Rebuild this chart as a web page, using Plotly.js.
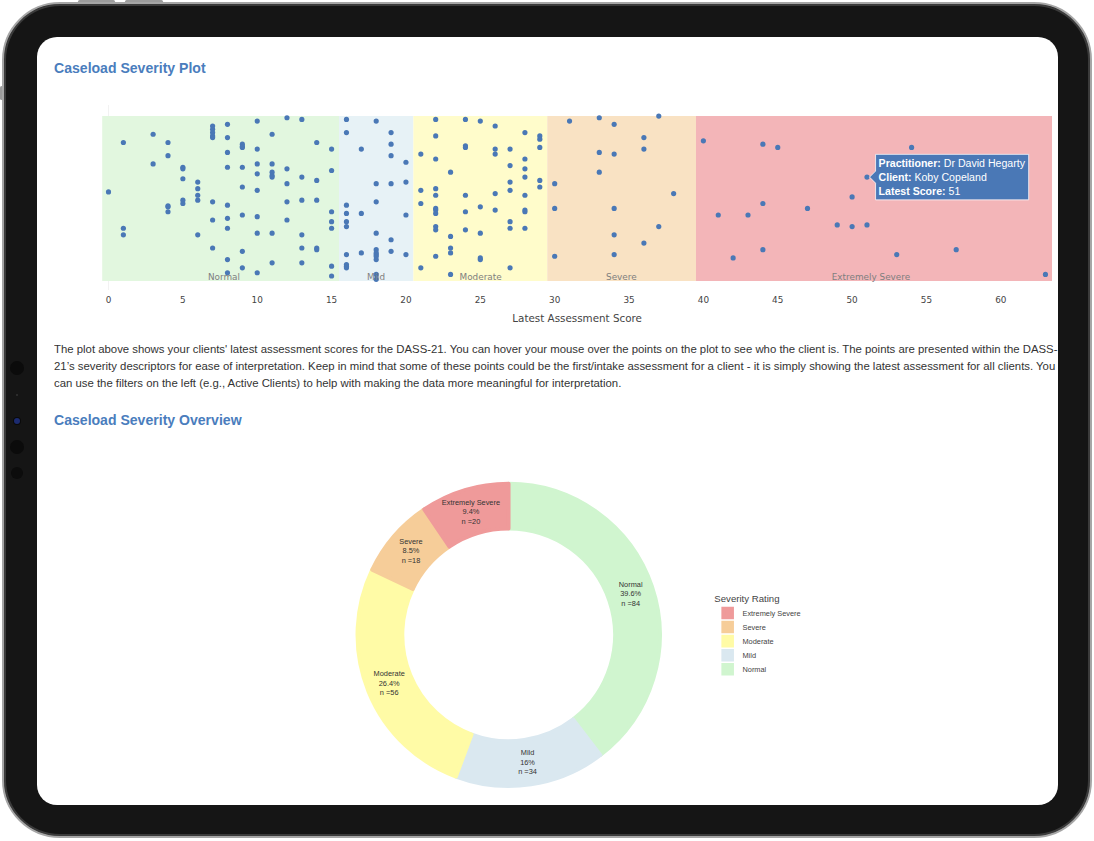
<!DOCTYPE html>
<html>
<head>
<meta charset="utf-8">
<script src="https://cdn.plot.ly/plotly-3.0.1.min.js"></script>
<style>
  html, body { margin: 0; padding: 0; background: #ffffff; }
  body { width: 1094px; height: 841px; position: relative; overflow: hidden; }
  .tablet {
    position: absolute; left: 2px; top: 2px; width: 1090px; height: 836px;
    box-sizing: border-box; border-radius: 58px; background: #151515;
    border: 2px solid #a6a6a6; box-shadow: inset 0 0 0 2px #3b3b3b;
  }
  .btn { position: absolute; background: #9c9c9c; border-radius: 2px; }
  .dot { position: absolute; border-radius: 50%; }
  .screen {
    position: absolute; left: 37px; top: 37px; width: 1021px; height: 768px;
    border-radius: 20px; background: #ffffff; overflow: hidden;
  }
  .page {
    position: absolute; left: 0; top: 0; width: 1380px; height: 1038px;
    transform: scale(0.7399); transform-origin: 0 0;
    font-family: "Liberation Sans", Arial, sans-serif;
  }
  .heading {
    position: absolute; left: 23px; margin: 0; font-size: 19px; line-height: 24px;
    font-weight: bold; color: #4a7dbd; white-space: nowrap;
  }
  .blurb {
    position: absolute; left: 23px; top: 409.7px; margin: 0; font-size: 15.35px;
    line-height: 23px; color: #333333; white-space: nowrap;
  }
  #severityPlot { position: absolute; left: 0; top: 0; width: 1380px; height: 420px; }
  #severityDonut { position: absolute; left: 0; top: 560px; width: 1380px; height: 478px; }
</style>
</head>
<body>
<div class="btn" style="left:78px;top:0;width:37px;height:3px;"></div>
<div class="btn" style="left:125px;top:0;width:38px;height:3px;"></div>
<div class="btn" style="left:0;top:86px;width:3px;height:14px;"></div>
<div class="tablet"></div>
<div class="dot" style="left:10px;top:361px;width:14px;height:14px;background:#0b0b0b;"></div>
<div class="dot" style="left:16px;top:394px;width:2px;height:2px;background:#333;"></div>
<div class="dot" style="left:14px;top:418px;width:6px;height:6px;background:#1c2b70;box-shadow:0 0 0 1px #0a0a0a;"></div>
<div class="dot" style="left:10px;top:440px;width:14px;height:14px;background:#0b0b0b;"></div>
<div class="dot" style="left:11px;top:467px;width:12px;height:12px;background:#0c0c0c;"></div>

<div class="screen">
  <div class="page">
    <h2 class="heading" style="top:30px;">Caseload Severity Plot</h2>
    <div id="severityPlot"></div>
    <p class="blurb">The plot above shows your clients' latest assessment scores for the DASS-21. You can hover your mouse over the points on the plot to see who the client is. The points are presented within the DASS-<br>21’s severity descriptors for ease of interpretation. Keep in mind that some of these points could be the first/intake assessment for a client - it is simply showing the latest assessment for all clients. You<br>can use the filters on the left (e.g., Active Clients) to help with making the data more meaningful for interpretation.</p>
    <h2 class="heading" style="top:507px;">Caseload Severity Overview</h2>
    <div id="severityDonut"></div>
  </div>
</div>

<script>
// Latest DASS-21 score for each client, with the vertical spread used to separate the dots
const scores = [
  0,
  1, 1, 1,
  3, 3,
  4, 4, 4, 4, 4,
  5, 5, 5, 5, 5,
  6, 6, 6, 6, 6,
  7, 7, 7, 7, 7, 7, 7, 7,
  8, 8, 8, 8, 8, 8, 8, 8, 8,
  9, 9, 9, 9, 9, 9, 9, 9,
  10, 10, 10, 10, 10, 10, 10, 10,
  11, 11, 11, 11, 11, 11, 11,
  12, 12, 12, 12, 12,
  13, 13, 13, 13, 13, 13,
  14, 14, 14, 14, 14,
  15, 15, 15, 15, 15, 15, 15,
  16, 16, 16, 16, 16, 16, 16, 16, 16, 16,
  17, 17, 17,
  18, 18, 18, 18, 18, 18, 18, 18, 18, 18, 18,
  19, 19, 19, 19, 19, 19,
  20, 20, 20, 20,
  21, 21, 21, 21,
  22, 22, 22, 22, 22, 22, 22, 22, 22, 22, 22,
  23, 23, 23, 23, 23,
  24, 24, 24, 24, 24, 24,
  25, 25, 25, 25, 25,
  26, 26, 26, 26, 26,
  27, 27, 27, 27, 27, 27, 27,
  28, 28, 28, 28, 28, 28, 28, 28,
  29, 29, 29, 29, 29,
  30, 30, 30,
  31,
  33, 33, 33,
  34, 34, 34, 34, 34,
  36, 36, 36,
  37, 37,
  38,
  40, 41, 42, 43,
  44, 44, 44,
  45, 47, 49,
  50, 50,
  51, 51,
  53, 54, 55, 57, 59, 63
];
const jitter = [
  0.54,
  0.84, 0.32, 0.28,
  0.89, 0.71,
  0.84, 0.76, 0.455, 0.45, 0.42,
  0.69, 0.68, 0.62, 0.49, 0.47,
  0.60, 0.56, 0.52, 0.49, 0.28,
  0.94, 0.92, 0.90, 0.88, 0.87, 0.48, 0.37, 0.20,
  0.95, 0.87, 0.78, 0.69, 0.46, 0.38, 0.32, 0.13, 0.05,
  0.83, 0.815, 0.81, 0.69, 0.57, 0.40, 0.18, 0.08,
  0.97, 0.80, 0.71, 0.65, 0.55, 0.39, 0.29, 0.05,
  0.89, 0.71, 0.66, 0.64, 0.63, 0.29, 0.11,
  0.99, 0.68, 0.59, 0.48, 0.37,
  0.98, 0.63, 0.49, 0.28, 0.20, 0.11,
  0.84, 0.61, 0.49, 0.20, 0.19,
  0.80, 0.67, 0.42, 0.36, 0.32, 0.09, 0.03,
  0.98, 0.90, 0.46, 0.41, 0.36, 0.33, 0.16, 0.10, 0.09, 0.08,
  0.80, 0.41, 0.17,
  0.97, 0.59, 0.48, 0.29, 0.19, 0.17, 0.16, 0.15, 0.13, 0.04, 0.01,
  0.90, 0.83, 0.76, 0.59, 0.25, 0.18,
  0.72, 0.60, 0.40, 0.16,
  0.77, 0.55, 0.47, 0.08,
  0.98, 0.88, 0.74, 0.56, 0.52, 0.44, 0.43, 0.41, 0.33, 0.31, 0.15,
  0.66, 0.27, 0.20, 0.17, 0.04,
  0.98, 0.82, 0.81, 0.52, 0.42, 0.31,
  0.97, 0.45, 0.29, 0.14, 0.13,
  0.94, 0.80, 0.77, 0.53, 0.43,
  0.80, 0.70, 0.60, 0.55, 0.36, 0.32, 0.08,
  0.90, 0.74, 0.68, 0.63, 0.52, 0.43, 0.42, 0.32,
  0.88, 0.86, 0.81, 0.61, 0.57,
  0.59, 0.44, 0.15,
  0.97,
  0.99, 0.78, 0.66,
  0.95, 0.77, 0.44, 0.28, 0.16,
  0.87, 0.80, 0.23,
  1.00, 0.33,
  0.53,
  0.85, 0.40, 0.14, 0.40,
  0.83, 0.47, 0.19,
  0.81, 0.44, 0.34,
  0.51, 0.33,
  0.63, 0.34,
  0.16, 0.81, 0.66, 0.19, 0.72, 0.04
];

// Severity bands on the DASS-21 score scale
const bandNames = ['Normal', 'Mild', 'Moderate', 'Severe', 'Extremely Severe'];
const bandEdges = [0, 15.5, 20.5, 29.5, 39.5, 63];
const bandFills = ['#e2f7df', '#e7f2f6', '#fffccb', '#f9e2c3', '#f3b5b8'];
const scoreRange = [-0.43, 63.45];
const scoreTicks = [0, 5, 10, 15, 20, 25, 30, 35, 40, 45, 50, 55, 60];

// Client shown in the open tooltip
const practitioner = 'Dr David Hegarty';
const focusClient = { name: 'Koby Copeland', score: 51, jitter: 0.63 };

// Caseload summary by severity rating
const severityLevels = ['Normal', 'Mild', 'Moderate', 'Severe', 'Extremely Severe'];
const severityCounts = [84, 34, 56, 18, 20];
const severityColours = ['#d0f5cf', '#dae8f0', '#fffba6', '#f6cd99', '#ef9a9a'];

const pointColour = '#4a78b6';

const focusIndex = scores.findIndex((s, i) => s === focusClient.score && jitter[i] === focusClient.jitter);
const clientNames = scores.map((s, i) => (i === focusIndex ? focusClient.name : ''));

const stripTrace = {
  type: 'scatter',
  mode: 'markers',
  x: scores,
  y: jitter,
  customdata: scores.map((s, i) => [practitioner, clientNames[i]]),
  hovertemplate: '<b>Practitioner:</b> %{customdata[0]}<br><b>Client:</b> %{customdata[1]}<br><b>Latest Score:</b> %{x}<extra></extra>',
  marker: { color: pointColour, size: 7 },
  showlegend: false
};

const last = bandNames.length - 1;
const bandShapes = bandNames.map((name, i) => ({
  type: 'rect', xref: 'x', yref: 'y',
  x0: i === 0 ? scoreRange[0] : bandEdges[i],
  x1: i === last ? scoreRange[1] : bandEdges[i + 1],
  y0: 0, y1: 1,
  fillcolor: bandFills[i], line: { width: 0 }, layer: 'between'
}));
const bandLabels = bandNames.map((name, i) => ({
  text: name, xref: 'x', yref: 'y',
  x: (bandEdges[i] + bandEdges[i + 1]) / 2, y: 0.024,
  yanchor: 'middle', showarrow: false,
  font: { size: 12, color: '#7f7f7f' }
}));

const stripLayout = {
  width: 1380, height: 420,
  margin: { l: 88, r: 8, t: 92, b: 78, autoexpand: false },
  paper_bgcolor: 'rgba(0,0,0,0)', plot_bgcolor: 'rgba(0,0,0,0)',
  font: { family: 'DejaVu Sans, Verdana, sans-serif', size: 12, color: '#444444' },
  xaxis: {
    range: scoreRange, tickmode: 'array', tickvals: scoreTicks, ticktext: scoreTicks.map(String),
    showgrid: false, zeroline: true, zerolinecolor: '#eeeeee', zerolinewidth: 1,
    showline: false, ticks: '', ticklabelstandoff: 4,
    title: { text: 'Latest Assessment Score', font: { size: 14 }, standoff: 14 }
  },
  yaxis: { range: [-0.055, 1.067], showgrid: false, zeroline: false, showticklabels: false, ticks: '' },
  shapes: bandShapes,
  annotations: bandLabels,
  hovermode: 'closest',
  hoverlabel: { font: { family: 'Liberation Sans, Arial, sans-serif', size: 14.3, color: '#ffffff' }, bordercolor: '#ffffff' },
  showlegend: false
};

const total = severityCounts.reduce((a, b) => a + b, 0);
const sliceText = severityLevels.map((lvl, i) =>
  lvl + '<br>' + (Math.round(severityCounts[i] / total * 1000) / 10) + '%<br>n =' + severityCounts[i]);

const donutTrace = {
  type: 'pie',
  labels: severityLevels,
  values: severityCounts,
  text: sliceText,
  textinfo: 'text',
  textposition: 'inside',
  insidetextorientation: 'horizontal',
  textfont: { family: 'Liberation Sans, Arial, sans-serif', size: 10, color: '#333333' },
  hole: 0.702,
  sort: false,
  direction: 'clockwise',
  rotation: 0,
  // slice-coloured outline keeps the legend swatches a touch larger
  marker: { colors: severityColours, line: { color: severityColours, width: 5 } },
  hoverinfo: 'label+value+percent'
};

const donutLayout = {
  width: 1380, height: 478,
  margin: { l: 433, r: 537.5, t: 43.4, b: 25.2, autoexpand: false },
  paper_bgcolor: 'rgba(0,0,0,0)',
  font: { family: 'Liberation Sans, Arial, sans-serif', size: 10, color: '#444444' },
  uniformtext: { minsize: 10, mode: 'show' },
  showlegend: true,
  legend: {
    title: { text: 'Severity Rating', font: { size: 13, color: '#444444' } },
    font: { size: 10, color: '#444444' },
    traceorder: 'reversed',
    x: 1.1747, xanchor: 'left', y: 0.6485, yanchor: 'top',
    bgcolor: 'rgba(0,0,0,0)'
  }
};

const config = { displayModeBar: false, responsive: false };

Plotly.newPlot('severityPlot', [stripTrace], stripLayout, config).then(gd => {
  if (Plotly.Fx && Plotly.Fx.hover && focusIndex >= 0) {
    Plotly.Fx.hover(gd, [{ curveNumber: 0, pointNumber: focusIndex }]);
  }
});
Plotly.newPlot('severityDonut', [donutTrace], donutLayout, config);
</script>
</body>
</html>
